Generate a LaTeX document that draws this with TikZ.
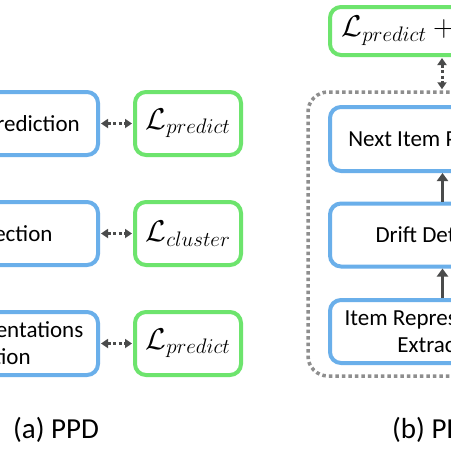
\RequirePackage{fix-cm}
\documentclass[tikz,border=0pt]{standalone}
\usepackage{fontspec}
\setmainfont{Carlito}
\usetikzlibrary{arrows.meta}
\definecolor{boxblue}{HTML}{6AAFEA}
\definecolor{boxgreen}{HTML}{6DE46D}
\definecolor{framegray}{HTML}{8E8E8E}
\definecolor{arrowgray}{HTML}{4A4B4B}
\tikzset{
  bluebox/.style={draw=boxblue, fill=white, line width=4pt, rounded corners=11pt,
    minimum width=229pt, minimum height=63pt, inner sep=0pt, align=center,
    font=\fontsize{23}{27}\selectfont},
  greenbox/.style={draw=boxgreen, fill=white, line width=4pt, rounded corners=11pt,
    minimum width=106pt, minimum height=63pt, inner sep=0pt,
    font=\fontsize{30}{33}\selectfont},
  dotframe/.style={draw=framegray, line width=3.5pt, dash pattern=on 3.5pt off 3pt,
    rounded corners=20pt, inner sep=0pt},
  dotarrow/.style={draw=arrowgray, line width=3pt, dash pattern=on 3pt off 2.5pt,
    {Triangle[length=7pt,width=9pt]}-{Triangle[length=7pt,width=9pt]},
    shorten >=1pt, shorten <=1pt},
  solidarrow/.style={draw=arrowgray, line width=3.5pt,
    -{Triangle[length=8pt,width=11pt]}},
  caption/.style={anchor=base west, inner sep=0pt, font=\fontsize{29}{32}\selectfont}
}
\begin{document}
\begin{tikzpicture}[x=1pt,y=-1pt]
\useasboundingbox (0,0) rectangle (451,451);
\clip (0,0) rectangle (451,451);
\fill[white] (0,0) rectangle (451,451);
% (a)
\node[bluebox] (a1) at (-16.5,123.5) {Next Item Prediction};
\node[bluebox] (a2) at (-16.5,233.5) {Drift Detection};
\node[bluebox] (a3) at (-16.5,343.5) {Item Representations\\Extraction};
\node[greenbox] (l1) at (188,123.5) {$\mathcal{L}_{predict}$};
\node[greenbox] (l2) at (188,233.5) {$\mathcal{L}_{cluster}$};
\node[greenbox] (l3) at (188,343.5) {$\mathcal{L}_{predict}$};
\draw[dotarrow] (a1.east) -- (l1.west);
\draw[dotarrow] (a2.east) -- (l2.west);
\draw[dotarrow] (a3.east) -- (l3.west);
% (b)
\node[dotframe, minimum width=272pt, minimum height=284pt] (fr) at (444,234) {};
\node[bluebox, minimum height=64pt] (b1) at (444.5,139) {Next Item Prediction};
\node[bluebox] (b2) at (444.5,235) {Drift Detection};
\node[bluebox] (b3) at (444.5,331.5) {Item Representations\\Extraction};
\node[greenbox, minimum width=228pt, minimum height=48pt] (top) at (444,31)
  {$\mathcal{L}_{predict}+\mathcal{L}_{cluster}$};
\draw[solidarrow] ([xshift=-2pt]b3.north) -- ([xshift=-2pt]b2.south);
\draw[solidarrow] ([xshift=-2pt]b2.north) -- ([xshift=-2pt]b1.south);
\draw[dotarrow] ([xshift=-2pt]top.south) -- ([xshift=-2pt]fr.north);
% captions
\node[caption] (capa) at (13,438) {(a) PPD};
\node[caption] (capb) at (392,438) {(b) PDD};
\end{tikzpicture}
\end{document}
